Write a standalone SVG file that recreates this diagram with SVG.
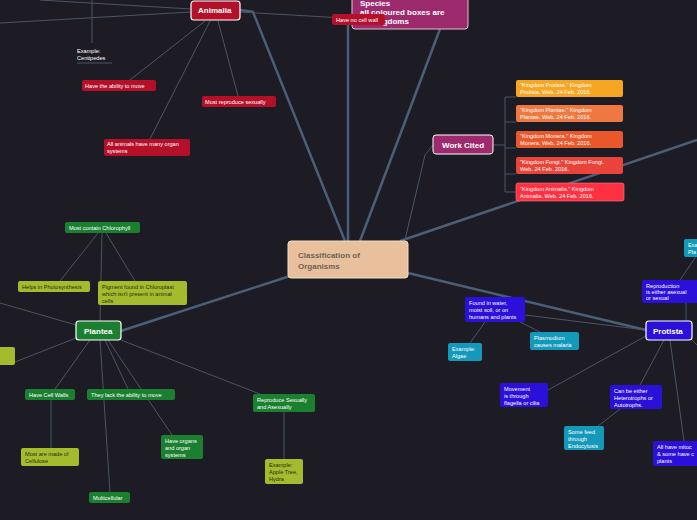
<svg xmlns="http://www.w3.org/2000/svg" width="697" height="520" viewBox="0 0 697 520">
<style>
text{font-family:"Liberation Sans",Arial,sans-serif;font-size:5.6px;fill:#fff}
.h{font-weight:bold;font-size:8px}
.d{fill:#2a2a1a}
.l{stroke:#4a5566;stroke-width:1;fill:none}
.t{stroke:#4a5f78;stroke-width:2.5;fill:none}
.r{fill:#b5102a}.g{fill:#1a8030}.y{fill:#a3bb2c}.p{fill:#2a10d8}.c{fill:#1599bb}
.m{stroke:#fff;stroke-width:1.2}
</style>
<rect width="697" height="520" fill="#1d1c24"/>
<g id="connectors">
<path class="t" d="M348 241 L348 25 M345 241 L253 12 L240 10 M360 241 L440 29 M400 241 L697 140 M290 276 L130 328 L121 331 M408 273 L646 330"/>
<path class="l" d="M0 23 L191 12 M40 0 L191 9 M92 0 L92 43 M77 63 L112 63 M240 12 L360 19 M205 21 L130 80 M210 21 L150 139 M218 21 L238 96 M493 145 L505 145 M433 145 L425 155 L405 240 M505 97 L505 192 M505 97 L516 97 M505 122 L516 122 M505 148 L516 148 M505 174 L516 174 M505 192 L516 192"/>
<path class="l" d="M0 303 L76 325 M76 338 L15 362 M102 233 L100 321 M98 233 L60 281 M106 233 L135 281 M90 340 L55 389 M105 340 L128 389 M100 340 L110 492 M108 340 L172 435 M121 340 L260 394 M51 400 L51 448 M284 412 L284 459"/>
<path class="l" d="M646 330 L525 315 M485 322 L470 343 M520 322 L540 332 M686 321 L686 303 M680 280 L697 255 M646 336 L548 390 M664 340 L640 385 M670 340 L684 441 M620 409 L598 426 M692 340 L697 345"/>
</g>
<g id="center"><rect x="288" y="241" width="120" height="37" rx="3" fill="#e8c09c" stroke="#f2dcc4"/><text class="h" x="298" y="258" style="fill:#6e6358">Classification of</text><text class="h" x="298" y="269" style="fill:#6e6358">Organisms</text></g>
<g id="species"><rect x="352" y="-6" width="116" height="35" rx="3" fill="#9e2a6e" stroke="#e0c0d0"/><text class="h" x="360" y="6">Species</text><text class="h" x="360" y="15">all coloured boxes are</text><text class="h" x="360" y="24">of Kingdoms</text></g>
<g id="animalia"><rect x="191" y="1" width="49" height="19" rx="3" class="r m"/><text class="h" x="198" y="13">Animalia</text></g>
<g id="nocell"><rect x="332" y="14" width="53" height="11" rx="2" class="r"/><text x="336" y="22">Have no cell wall</text></g>
<g id="centipedes"><text x="77" y="53">Example:</text><text x="77" y="60">Centipedes</text></g>
<g id="move"><rect x="82" y="80" width="74" height="11" rx="2" class="r"/><text x="85" y="88">Have the ability to move</text></g>
<g id="sexual"><rect x="202" y="96" width="74" height="11" rx="2" class="r"/><text x="205" y="104">Most reproduce sexually</text></g>
<g id="organ"><rect x="104" y="139" width="86" height="17" rx="2" class="r"/><text x="107" y="146">All animals have many organ</text><text x="107" y="153">systems</text></g>
<g id="work"><rect x="433" y="135" width="60" height="19" rx="3" fill="#9e2a6e" stroke="#fff"/><text class="h" x="442" y="148">Work Cited</text></g>
<g id="c1"><rect x="516" y="80" width="107" height="17" rx="2" fill="#f5a623"/><text x="520" y="87">"Kingdom Protista." Kingdom</text><text x="520" y="94">Protista. Web. 24 Feb. 2016.</text></g>
<g id="c2"><rect x="516" y="105" width="107" height="17" rx="2" fill="#ef7840"/><text x="520" y="112">"Kingdom Plantae." Kingdom</text><text x="520" y="119">Plantae. Web. 24 Feb. 2016.</text></g>
<g id="c3"><rect x="516" y="131" width="107" height="17" rx="2" fill="#e8582a"/><text x="520" y="138">"Kingdom Monera." Kingdom</text><text x="520" y="145">Monera. Web. 24 Feb. 2016.</text></g>
<g id="c4"><rect x="516" y="157" width="107" height="17" rx="2" fill="#e8443a"/><text x="520" y="164">"Kingdom Fungi." Kingdom Fungi.</text><text x="520" y="171">Web. 24 Feb. 2016.</text></g>
<g id="c5"><rect x="516" y="183" width="108" height="18" rx="2" fill="#ff3040" stroke="#f08090" stroke-width="0.6"/><text x="520" y="191">"Kingdom Animalia." Kingdom</text><text x="520" y="198">Animalia. Web. 24 Feb. 2016.</text></g>
<g id="plantea"><rect x="76" y="321" width="45" height="19" rx="3" class="g m"/><text class="h" x="84" y="334">Plantea</text></g>
<g id="chloro"><rect x="65" y="222" width="75" height="11" rx="2" class="g"/><text x="69" y="230">Most contain Chlorophyll</text></g>
<g id="photo"><rect x="18" y="281" width="72" height="11" rx="2" class="y"/><text class="d" x="22" y="289">Helps in Photosynthesis</text></g>
<g id="pigment"><rect x="98" y="281" width="89" height="24" rx="2" class="y"/><text class="d" x="102" y="289">Pigment found in Chloroplast</text><text class="d" x="102" y="296">which isn't present in animal</text><text class="d" x="102" y="303">cells</text></g>
<g id="leftbox"><rect x="-5" y="347" width="20" height="18" rx="2" class="y"/></g>
<g id="cellwalls"><rect x="25" y="389" width="50" height="11" rx="2" class="g"/><text x="29" y="397">Have Cell Walls</text></g>
<g id="lack"><rect x="87" y="389" width="88" height="11" rx="2" class="g"/><text x="91" y="397">They lack the ability to move</text></g>
<g id="repro"><rect x="253" y="394" width="62" height="18" rx="2" class="g"/><text x="257" y="402">Reproduce Sexually</text><text x="257" y="409">and Asexually</text></g>
<g id="cellulose"><rect x="21" y="448" width="58" height="18" rx="2" class="y"/><text class="d" x="25" y="456">Most are made of</text><text class="d" x="25" y="463">Cellulose</text></g>
<g id="organs"><rect x="161" y="435" width="42" height="24" rx="2" class="g"/><text x="165" y="443">Have organs</text><text x="165" y="450">and organ</text><text x="165" y="457">systems</text></g>
<g id="apple"><rect x="265" y="459" width="38" height="25" rx="2" class="y"/><text class="d" x="269" y="467">Example:</text><text class="d" x="269" y="474">Apple Tree,</text><text class="d" x="269" y="481">Hydra</text></g>
<g id="multi"><rect x="89" y="492" width="41" height="11" rx="2" class="g"/><text x="93" y="500">Multicellular</text></g>
<g id="protista"><rect x="646" y="321" width="46" height="19" rx="3" class="p m"/><text class="h" x="653" y="334">Protista</text></g>
<g id="water"><rect x="465" y="297" width="60" height="25" rx="2" class="p"/><text x="469" y="305">Found in water,</text><text x="469" y="312">moist soil, or on</text><text x="469" y="319">humans and plants</text></g>
<g id="algae"><rect x="448" y="343" width="34" height="18" rx="2" class="c"/><text x="452" y="351">Example:</text><text x="452" y="358">Algae</text></g>
<g id="plasmo"><rect x="530" y="332" width="49" height="18" rx="2" class="c"/><text x="534" y="340">Plasmodium</text><text x="534" y="347">causes malaria</text></g>
<g id="reprop"><rect x="642" y="280" width="60" height="23" rx="2" class="p"/><text x="646" y="288">Reproduction</text><text x="646" y="294">is either asexual</text><text x="646" y="300"> or sexual</text></g>
<g id="expl"><rect x="684" y="239" width="20" height="18" rx="2" class="c"/><text x="688" y="247">Exa</text><text x="688" y="254">Pla</text></g>
<g id="movement"><rect x="500" y="383" width="48" height="24" rx="2" class="p"/><text x="504" y="391">Movement</text><text x="504" y="398">is through</text><text x="504" y="405">flagella or cilia</text></g>
<g id="hetero"><rect x="610" y="385" width="52" height="24" rx="2" class="p"/><text x="614" y="393">Can be either</text><text x="614" y="400">Heterotrophs or</text><text x="614" y="407">Autotrophs.</text></g>
<g id="endo"><rect x="564" y="426" width="40" height="24" rx="2" class="c"/><text x="568" y="434">Some feed</text><text x="568" y="441">through</text><text x="568" y="448">Endocytosis</text></g>
<g id="mito"><rect x="653" y="441" width="50" height="25" rx="2" class="p"/><text x="657" y="449">All have mitoc</text><text x="657" y="456">&amp; some have c</text><text x="657" y="463">plants</text></g>
</svg>
